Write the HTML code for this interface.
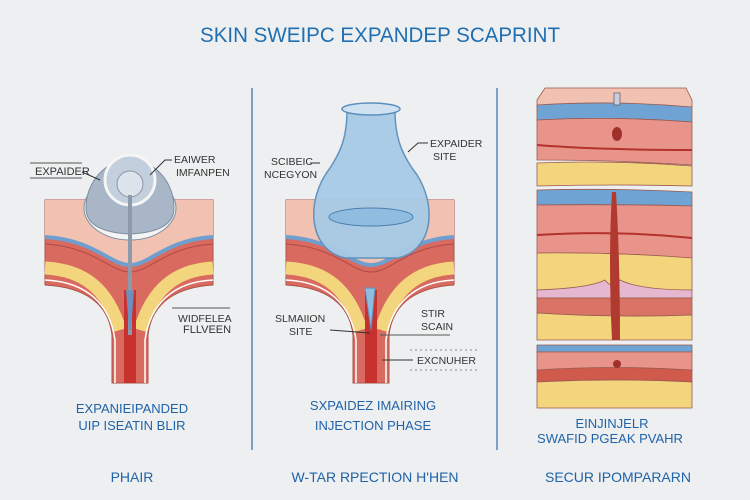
<!DOCTYPE html>
<html><head><meta charset="utf-8"><style>
html,body{margin:0;padding:0;background:#edeff0;}
svg{display:block;}
text{font-family:"Liberation Sans",sans-serif;}
</style></head><body>
<svg width="750" height="500" viewBox="0 0 750 500" xmlns="http://www.w3.org/2000/svg">
<rect width="750" height="500" fill="#edeff0"/>
<text x="380" y="42" text-anchor="middle" font-size="21" fill="#1f6fb2" textLength="360" lengthAdjust="spacingAndGlyphs">SKIN SWEIPC EXPANDEP SCAPRINT</text>
<line x1="252" y1="88" x2="252" y2="450" stroke="#5a86b8" stroke-width="1.5"/>
<line x1="497" y1="88" x2="497" y2="450" stroke="#5a86b8" stroke-width="1.5"/>

<defs>
<g id="funnel">
  <path d="M45,200 L213,200 L213,285 C180,287 152,300 148,335 L148,383 L112,383 L112,335 C108,300 80,287 45,285 Z" fill="#d96a5f" stroke="#a9544a" stroke-width="1"/>
  <path d="M45,200 L213,200 L213,237 C165,240 150,265 130,265 C110,265 95,240 45,237 Z" fill="#f1c2b1"/>
  <path d="M45,237 C95,240 110,265 130,265 C150,265 165,240 213,237" fill="none" stroke="#6f9fcf" stroke-width="4"/>
  <path d="M45,244 C95,247 110,272 130,272 C150,272 165,247 213,244" fill="none" stroke="#b04a45" stroke-width="1"/>
  <path d="M45,268 C85,270 108,290 120,330" fill="none" stroke="#f3d57e" stroke-width="13"/>
  <path d="M213,268 C175,270 152,290 140,330" fill="none" stroke="#f3d57e" stroke-width="13"/>
  <path d="M45,280 C88,282 110,305 115,340 L115,383" fill="none" stroke="#fff" stroke-width="1.5"/>
  <path d="M213,280 C172,282 150,305 145,340 L145,383" fill="none" stroke="#fff" stroke-width="1.5"/>
  <rect x="124" y="290" width="12" height="93" fill="#c7312e"/>
</g>
</defs>

<!-- Panel 1 -->
<use href="#funnel"/>
<ellipse cx="130" cy="208" rx="46" ry="32" fill="#f4f4f4" stroke="#7d8da0"/>
<path d="M86,208 A44,48 0 0 1 174,208 Q174,232 130,234 Q86,232 86,208 Z" fill="#a9b6c8" stroke="#7d8da0"/>
<circle cx="130" cy="180" r="25" fill="#c3cfdc" stroke="#f5f5f5" stroke-width="3"/>
<circle cx="130" cy="184" r="13" fill="#dce3ea" stroke="#8a97a8"/>
<rect x="128" y="195" width="4" height="140" fill="#8d9aaa"/>
<path d="M126,290 L134,290 L131,330 L129,330 Z" fill="#6c8fc0"/>
<line x1="30" y1="163" x2="82" y2="163" stroke="#555"/>
<line x1="30" y1="178" x2="82" y2="178" stroke="#555"/>
<text x="35" y="175" font-size="11" fill="#333">EXPAIDER</text>
<line x1="82" y1="172" x2="100" y2="180" stroke="#333"/>
<path d="M150,175 L165,160 L172,160" fill="none" stroke="#333"/>
<text x="174" y="163" font-size="10.5" fill="#333">EAIWER</text>
<text x="176" y="176" font-size="10.5" fill="#333">IMFANPEN</text>
<line x1="172" y1="308" x2="230" y2="308" stroke="#555"/>
<text x="178" y="322" font-size="10.5" fill="#333">WIDFELEA</text>
<text x="183" y="333" font-size="11" fill="#333">FLLVEEN</text>

<!-- Panel 2 -->
<use href="#funnel" transform="translate(241,0)"/>
<path d="M347,110 C347,135 342,150 330,168 C305,200 308,250 345,258 L398,258 C435,250 438,200 412,168 C400,150 395,135 395,110 Z" fill="#a7cbe6" stroke="#5d8fbd" stroke-width="1.5" opacity="0.95"/>
<ellipse cx="371" cy="109" rx="29" ry="6" fill="#cfe2f1" stroke="#5d8fbd" stroke-width="1.5"/>
<ellipse cx="371" cy="217" rx="42" ry="9" fill="#8fbde0" stroke="#4d7fae"/>
<path d="M365,288 L375,288 L371,330 Z" fill="#8fbde0" stroke="#5d8fbd"/>
<path d="M408,152 L418,143 L428,143" fill="none" stroke="#333"/>
<text x="430" y="147" font-size="10.5" fill="#333">EXPAIDER</text>
<text x="433" y="160" font-size="10.5" fill="#333">SITE</text>
<text x="271" y="165" font-size="10.5" fill="#333">SCIBEIC</text>
<text x="264" y="178" font-size="10.5" fill="#333">NCEGYON</text>
<line x1="310" y1="163" x2="320" y2="163" stroke="#333"/>
<text x="275" y="322" font-size="10.5" fill="#333">SLMAIION</text>
<text x="289" y="335" font-size="10.5" fill="#333">SITE</text>
<line x1="330" y1="330" x2="370" y2="333" stroke="#333"/>
<text x="421" y="317" font-size="10.5" fill="#333">STIR</text>
<text x="421" y="330" font-size="10.5" fill="#333">SCAIN</text>
<line x1="380" y1="335" x2="450" y2="335" stroke="#555"/>
<line x1="410" y1="350" x2="480" y2="350" stroke="#888" stroke-dasharray="2,3"/>
<line x1="382" y1="360" x2="413" y2="360" stroke="#333"/>
<text x="417" y="364" font-size="10.5" fill="#333">EXCNUHER</text>
<line x1="410" y1="370" x2="480" y2="370" stroke="#888" stroke-dasharray="2,3"/>

<!-- Panel 3 -->
<g stroke="#9a5a50" stroke-width="0.8">
<path d="M545,88 L686,88 L692,100 L692,107 L537,107 L537,100 Z" fill="#f1c2b1"/>
<path d="M537,105 Q615,100 692,107 L692,122 Q615,116 537,120 Z" fill="#6ea3d4"/>
<path d="M537,120 Q615,116 692,122 L692,165 Q615,160 537,160 Z" fill="#e8948a"/>
<path d="M537,145 Q600,150 692,150" fill="none" stroke="#b4312d" stroke-width="2"/>
<path d="M537,163 Q615,160 692,166 L692,186 Q615,184 537,186 Z" fill="#f3d57e"/>
<path d="M537,190 Q615,188 692,192 L692,206 Q615,204 537,205 Z" fill="#6ea3d4"/>
<path d="M537,205 Q615,204 692,206 L692,258 Q615,252 537,253 Z" fill="#e8948a"/>
<path d="M537,235 Q615,230 692,238" fill="none" stroke="#b4312d" stroke-width="2"/>
<path d="M537,253 Q615,252 692,258 L692,290 L537,290 Z" fill="#f3d57e"/>
<path d="M537,290 Q590,288 605,280 Q612,290 620,280 Q640,290 692,290 L692,298 L537,298 Z" fill="#e5b8d0"/>
<path d="M537,298 L692,298 L692,315 Q615,318 537,313 Z" fill="#d97366"/>
<path d="M537,313 Q615,318 692,315 L692,340 L537,340 Z" fill="#f3d57e"/>
<path d="M537,345 L692,345 L692,352 L537,352 Z" fill="#6ea3d4"/>
<path d="M537,352 L692,352 L692,370 L537,370 Z" fill="#e8948a"/>
<path d="M537,370 Q615,365 692,370 L692,382 Q615,378 537,382 Z" fill="#d05a4c"/>
<path d="M537,382 Q615,378 692,382 L692,408 L537,408 Z" fill="#f3d57e"/>
</g>
<path d="M612,192 Q608,260 612,340 L620,340 Q620,260 616,192 Z" fill="#b03a30"/>
<ellipse cx="617" cy="134" rx="5" ry="7" fill="#a0302a"/>
<circle cx="617" cy="364" r="4" fill="#a0302a"/>
<rect x="614" y="93" width="6" height="12" fill="#c8d0dc" stroke="#555" stroke-width="0.7"/>

<!-- Bottom labels -->
<g fill="#2163a8" font-size="13" text-anchor="middle">
<text x="132" y="413">EXPANIEIPANDED</text>
<text x="132" y="430">UIP ISEATIN BLIR</text>
<text x="373" y="410">SXPAIDEZ IMAIRING</text>
<text x="373" y="430">INJECTION PHASE</text>
<text x="612" y="428">EINJINJELR</text>
<text x="610" y="443">SWAFID PGEAK PVAHR</text>
<text x="132" y="482" font-size="14">PHAIR</text>
<text x="375" y="482" font-size="14">W-TAR RPECTION H'HEN</text>
<text x="618" y="482" font-size="14">SECUR IPOMPARARN</text>
</g>
</svg>
</body></html>
